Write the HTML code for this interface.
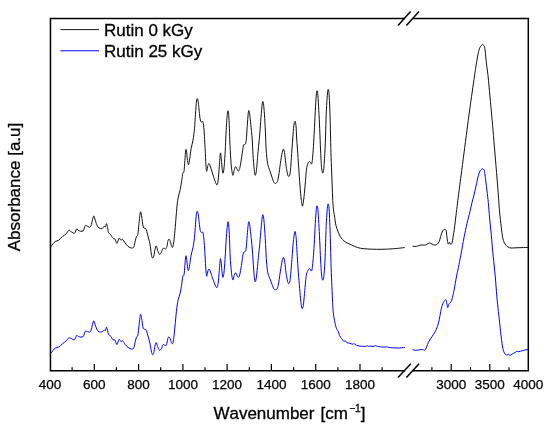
<!DOCTYPE html>
<html><head><meta charset="utf-8"><title>Rutin spectra</title>
<style>
html,body{margin:0;padding:0;background:#fff;}
body{width:550px;height:432px;overflow:hidden;}
svg{display:block;}
text{font-family:"Liberation Sans",Arial,sans-serif;fill:#000;font-kerning:none;}
</style></head>
<body>
<svg width="550" height="432" viewBox="0 0 550 432">
<rect width="550" height="432" fill="#fff"/>
<g fill="none" stroke="#000" stroke-width="1.5" stroke-linecap="square">
<path d="M50.45,18.5 V370.7 H404 M50.45,18.5 H404 M413.2,18.5 H528.3 V370.7 H413.2"/>
</g>
<g fill="none" stroke="#000" stroke-width="1.5">
<line x1="398" y1="25.4" x2="410.6" y2="11.6"/>
<line x1="406.4" y1="25.4" x2="419" y2="11.6"/>
<line x1="398" y1="377.4" x2="410.8" y2="363.7"/>
<line x1="406.4" y1="377.4" x2="419.1" y2="363.7"/>
</g>
<g stroke="#000" stroke-width="1.2"><line x1="72.1" y1="370.7" x2="72.1" y2="367.2"/><line x1="94.3" y1="370.7" x2="94.3" y2="364.0"/><line x1="116.4" y1="370.7" x2="116.4" y2="367.2"/><line x1="138.6" y1="370.7" x2="138.6" y2="364.0"/><line x1="160.7" y1="370.7" x2="160.7" y2="367.2"/><line x1="182.9" y1="370.7" x2="182.9" y2="364.0"/><line x1="205.0" y1="370.7" x2="205.0" y2="367.2"/><line x1="227.1" y1="370.7" x2="227.1" y2="364.0"/><line x1="249.3" y1="370.7" x2="249.3" y2="367.2"/><line x1="271.4" y1="370.7" x2="271.4" y2="364.0"/><line x1="293.6" y1="370.7" x2="293.6" y2="367.2"/><line x1="315.7" y1="370.7" x2="315.7" y2="364.0"/><line x1="337.9" y1="370.7" x2="337.9" y2="367.2"/><line x1="360.0" y1="370.7" x2="360.0" y2="364.0"/><line x1="382.1" y1="370.7" x2="382.1" y2="367.2"/><line x1="431.9" y1="370.7" x2="431.9" y2="367.2"/><line x1="451.2" y1="370.7" x2="451.2" y2="364.0"/><line x1="470.5" y1="370.7" x2="470.5" y2="367.2"/><line x1="489.8" y1="370.7" x2="489.8" y2="364.0"/><line x1="509.0" y1="370.7" x2="509.0" y2="367.2"/></g>
<g font-size="13.5px" stroke="#000" stroke-width="0.25"><text x="50.0" y="388.5" text-anchor="middle">400</text><text x="94.3" y="388.5" text-anchor="middle">600</text><text x="138.6" y="388.5" text-anchor="middle">800</text><text x="182.9" y="388.5" text-anchor="middle">1000</text><text x="227.1" y="388.5" text-anchor="middle">1200</text><text x="271.4" y="388.5" text-anchor="middle">1400</text><text x="315.7" y="388.5" text-anchor="middle">1600</text><text x="360.0" y="388.5" text-anchor="middle">1800</text><text x="451.2" y="388.5" text-anchor="middle">3000</text><text x="489.8" y="388.5" text-anchor="middle">3500</text><text x="528.3" y="388.5" text-anchor="middle">4000</text></g>
<g fill="none" stroke-linejoin="round" stroke-linecap="round">
<path stroke="#111" stroke-width="1" d="M50.60,246.90C51.00,246.39 52.35,244.56 53.10,243.70C53.85,242.84 54.37,242.08 55.30,241.50C56.23,240.92 57.73,240.92 58.90,240.10C60.07,239.28 61.43,237.41 62.60,236.40C63.77,235.39 65.21,234.78 66.20,233.80C67.19,232.82 67.98,230.62 68.80,230.30C69.62,229.98 70.39,231.34 71.30,231.80C72.21,232.26 73.64,233.66 74.50,233.20C75.36,232.74 76.04,229.32 76.70,228.90C77.36,228.48 77.59,230.26 78.60,230.60C79.61,230.94 81.94,231.78 83.00,231.00C84.06,230.22 84.50,226.47 85.20,225.70C85.90,224.93 86.54,226.04 87.40,226.20C88.26,226.36 89.62,228.28 90.60,226.70C91.58,225.12 92.81,217.53 93.50,216.30C94.19,215.07 94.37,217.64 94.90,219.00C95.43,220.36 96.14,223.36 96.80,224.80C97.46,226.24 98.14,227.39 99.00,228.00C99.86,228.61 101.38,228.89 102.20,228.60C103.02,228.31 103.60,226.44 104.10,226.20C104.60,225.96 104.88,227.48 105.30,227.10C105.72,226.72 106.19,222.95 106.70,223.80C107.21,224.65 107.91,230.72 108.50,232.40C109.09,234.08 109.70,233.37 110.40,234.30C111.10,235.23 112.16,237.43 112.90,238.20C113.64,238.97 114.36,238.27 115.00,239.10C115.64,239.93 116.24,243.54 116.90,243.40C117.56,243.26 118.46,238.73 119.10,238.20C119.74,237.67 120.34,239.91 120.90,240.10C121.46,240.29 121.91,238.94 122.60,239.40C123.29,239.86 124.34,241.88 125.20,243.00C126.06,244.12 126.96,245.58 128.00,246.40C129.04,247.22 130.77,248.02 131.70,248.10C132.63,248.18 133.22,248.07 133.80,246.90C134.38,245.73 134.87,242.48 135.30,240.80C135.73,239.12 136.08,237.44 136.50,236.40C136.92,235.36 137.50,236.40 137.90,234.30C138.30,232.20 138.60,226.87 139.00,223.30C139.40,219.73 139.98,213.17 140.40,212.00C140.82,210.83 141.14,213.60 141.60,216.00C142.06,218.40 142.61,224.94 143.30,227.00C143.99,229.06 145.20,227.62 145.90,228.90C146.60,230.18 147.06,232.63 147.70,235.00C148.34,237.37 149.32,240.68 149.90,243.70C150.48,246.72 150.88,251.61 151.30,253.90C151.72,256.19 152.10,257.65 152.50,258.00C152.90,258.35 153.40,257.44 153.80,256.10C154.20,254.76 154.62,251.23 155.00,249.60C155.38,247.97 155.78,245.79 156.20,245.90C156.62,246.01 157.09,248.94 157.60,250.30C158.11,251.66 158.81,254.05 159.40,254.40C159.99,254.75 160.77,253.40 161.30,252.50C161.83,251.60 162.27,249.50 162.70,248.80C163.13,248.10 163.54,248.05 164.00,248.10C164.46,248.15 165.14,249.34 165.60,249.10C166.06,248.86 166.55,247.82 166.90,246.60C167.25,245.38 167.50,242.70 167.80,241.50C168.10,240.30 168.45,239.26 168.80,239.10C169.15,238.94 169.60,239.52 170.00,240.50C170.40,241.48 170.90,244.10 171.30,245.20C171.70,246.30 172.13,247.75 172.50,247.40C172.87,247.05 173.25,245.22 173.60,243.00C173.95,240.78 174.35,237.12 174.70,233.50C175.05,229.88 175.42,224.96 175.80,220.40C176.18,215.84 176.70,208.74 177.10,205.00C177.50,201.26 177.80,199.46 178.30,197.00C178.80,194.54 179.66,192.19 180.20,189.60C180.74,187.01 181.28,183.42 181.70,180.80C182.12,178.18 182.43,174.72 182.80,173.20C183.17,171.68 183.66,173.35 184.00,171.30C184.34,169.25 184.63,163.78 184.90,160.40C185.17,157.02 185.44,151.72 185.70,150.20C185.96,148.68 186.21,149.27 186.50,150.90C186.79,152.53 187.18,158.18 187.50,160.40C187.82,162.62 188.15,165.04 188.50,164.80C188.85,164.56 189.28,161.48 189.70,158.90C190.12,156.32 190.57,151.69 191.10,148.70C191.63,145.71 192.46,143.40 193.00,140.20C193.54,137.00 194.10,132.86 194.50,128.70C194.90,124.54 195.18,118.63 195.50,114.20C195.82,109.77 196.20,103.46 196.50,101.00C196.80,98.54 197.11,98.56 197.40,98.80C197.69,99.04 198.01,100.52 198.30,102.50C198.59,104.48 198.88,108.40 199.20,111.20C199.52,114.00 199.92,118.24 200.30,120.00C200.68,121.76 201.20,121.98 201.60,122.20C202.00,122.42 202.45,120.58 202.80,121.40C203.15,122.22 203.51,124.40 203.80,127.30C204.09,130.20 204.38,135.87 204.60,139.50C204.82,143.13 204.99,145.95 205.20,150.00C205.41,154.05 205.66,161.39 205.90,164.80C206.14,168.21 206.38,171.19 206.70,171.30C207.02,171.41 207.52,166.73 207.90,165.50C208.28,164.27 208.68,163.36 209.10,163.60C209.52,163.84 209.88,165.18 210.50,167.00C211.12,168.82 212.25,172.68 213.00,175.00C213.75,177.32 214.58,179.92 215.20,181.50C215.82,183.08 216.44,185.01 216.90,184.90C217.36,184.79 217.72,183.79 218.10,180.80C218.48,177.81 218.93,170.63 219.30,166.20C219.67,161.77 220.08,154.25 220.40,153.10C220.72,151.95 221.01,156.42 221.30,159.00C221.59,161.58 221.94,166.93 222.20,169.20C222.46,171.47 222.63,173.20 222.90,173.20C223.17,173.20 223.56,172.18 223.90,169.20C224.24,166.22 224.70,159.59 225.00,154.60C225.30,149.61 225.50,143.78 225.80,138.00C226.10,132.22 226.56,122.84 226.90,118.50C227.24,114.16 227.61,111.59 227.90,110.90C228.19,110.21 228.46,111.35 228.70,114.20C228.94,117.05 229.21,124.09 229.40,128.70C229.59,133.31 229.74,139.11 229.90,143.00C230.06,146.89 230.19,149.51 230.40,153.00C230.61,156.49 230.91,161.63 231.20,164.80C231.49,167.97 231.91,171.12 232.20,172.80C232.49,174.48 232.70,175.65 233.00,175.30C233.30,174.95 233.68,171.98 234.10,170.60C234.52,169.22 235.12,166.92 235.60,166.70C236.08,166.48 236.68,168.51 237.10,169.20C237.52,169.89 237.78,171.13 238.20,171.00C238.62,170.87 239.19,170.32 239.70,168.40C240.21,166.48 240.89,162.15 241.40,159.00C241.91,155.85 242.55,150.97 242.90,148.70C243.25,146.43 243.25,145.49 243.60,144.80C243.95,144.11 244.68,145.10 245.10,144.40C245.52,143.70 245.86,143.26 246.20,140.40C246.54,137.54 246.88,130.80 247.20,126.50C247.52,122.20 247.93,116.06 248.20,113.50C248.47,110.94 248.66,110.39 248.90,110.50C249.14,110.61 249.40,111.98 249.70,114.20C250.00,116.42 250.40,120.43 250.80,124.40C251.20,128.37 251.85,134.17 252.20,139.00C252.55,143.83 252.68,149.77 253.00,154.60C253.32,159.43 253.85,165.89 254.20,169.20C254.55,172.51 254.85,175.08 255.20,175.30C255.55,175.52 255.98,173.91 256.40,170.60C256.82,167.29 257.42,158.86 257.80,154.60C258.18,150.34 258.51,146.98 258.80,144.00C259.09,141.02 259.30,139.62 259.60,136.00C259.90,132.38 260.33,126.06 260.70,121.40C261.07,116.74 261.56,110.08 261.90,106.90C262.24,103.72 262.51,101.74 262.80,101.50C263.09,101.26 263.40,102.68 263.70,105.40C264.00,108.12 264.41,113.92 264.70,118.50C264.99,123.08 265.26,128.96 265.50,134.00C265.74,139.04 265.86,145.31 266.20,150.00C266.54,154.69 267.02,160.00 267.60,163.30C268.18,166.60 269.10,168.38 269.80,170.60C270.50,172.82 271.34,175.33 272.00,177.20C272.66,179.07 273.32,181.31 273.90,182.30C274.48,183.29 275.04,183.53 275.60,183.40C276.16,183.27 276.89,182.84 277.40,181.50C277.91,180.16 278.32,177.91 278.80,175.00C279.28,172.09 279.86,166.92 280.40,163.30C280.94,159.68 281.69,154.66 282.20,152.40C282.71,150.14 283.18,148.85 283.60,149.20C284.02,149.55 284.40,151.88 284.80,154.60C285.20,157.32 285.65,163.05 286.10,166.20C286.55,169.35 287.18,172.67 287.60,174.30C288.02,175.93 288.33,176.40 288.70,176.40C289.07,176.40 289.55,176.16 289.90,174.30C290.25,172.44 290.58,168.69 290.90,164.80C291.22,160.91 291.60,154.29 291.90,150.00C292.20,145.71 292.50,141.87 292.80,138.00C293.10,134.13 293.45,128.49 293.80,125.80C294.15,123.11 294.65,121.20 295.00,121.20C295.35,121.20 295.74,123.27 296.00,125.80C296.26,128.33 296.36,133.13 296.60,137.00C296.84,140.87 297.18,145.33 297.50,150.00C297.82,154.67 298.20,160.44 298.60,166.20C299.00,171.96 299.58,180.75 300.00,186.00C300.42,191.25 300.82,195.77 301.20,199.00C301.58,202.23 302.03,205.88 302.40,206.20C302.77,206.52 303.15,203.43 303.50,201.00C303.85,198.57 304.28,194.23 304.60,191.00C304.92,187.77 305.20,184.29 305.50,180.80C305.80,177.31 306.15,171.87 306.50,169.20C306.85,166.53 307.28,165.32 307.70,164.10C308.12,162.88 308.68,161.90 309.10,161.60C309.52,161.30 309.92,161.80 310.30,162.20C310.68,162.60 311.18,164.39 311.50,164.10C311.82,163.81 312.03,162.66 312.30,160.40C312.57,158.14 312.90,154.37 313.20,150.00C313.50,145.63 313.86,139.31 314.20,133.10C314.54,126.89 314.98,117.14 315.30,111.20C315.62,105.26 315.93,99.26 316.20,96.00C316.47,92.74 316.73,90.88 317.00,90.80C317.27,90.72 317.61,92.35 317.90,95.50C318.19,98.65 318.51,105.19 318.80,110.50C319.09,115.81 319.41,122.22 319.70,128.70C319.99,135.18 320.30,144.76 320.60,151.00C320.90,157.24 321.26,164.18 321.60,167.70C321.94,171.22 322.35,172.87 322.70,173.00C323.05,173.13 323.45,171.86 323.80,168.50C324.15,165.14 324.61,157.36 324.90,152.00C325.19,146.64 325.39,141.05 325.60,135.00C325.81,128.95 325.96,120.10 326.20,114.20C326.44,108.30 326.81,102.02 327.10,98.10C327.39,94.18 327.71,90.63 328.00,89.70C328.29,88.77 328.64,90.01 328.90,92.30C329.16,94.59 329.39,99.34 329.60,104.00C329.81,108.66 330.04,115.96 330.20,121.40C330.36,126.84 330.46,132.22 330.60,138.00C330.74,143.78 330.89,151.10 331.10,157.50C331.31,163.90 331.66,171.68 331.90,178.00C332.14,184.32 332.36,192.01 332.60,197.00C332.84,201.99 333.10,206.16 333.40,209.20C333.70,212.24 334.10,213.44 334.50,216.00C334.90,218.56 335.37,222.80 335.90,225.20C336.43,227.60 337.16,229.27 337.80,231.00C338.44,232.73 339.15,234.64 339.90,236.00C340.65,237.36 341.62,238.54 342.50,239.50C343.38,240.46 344.36,241.31 345.40,242.00C346.44,242.69 347.50,243.08 349.00,243.80C350.50,244.52 352.94,245.78 354.80,246.50C356.66,247.22 358.50,247.90 360.60,248.30C362.70,248.70 365.34,248.84 367.90,249.00C370.46,249.16 373.80,249.27 376.60,249.30C379.40,249.33 382.60,249.30 385.40,249.20C388.20,249.10 391.76,248.88 394.10,248.70C396.44,248.52 398.37,248.28 400.00,248.10C401.63,247.92 403.61,247.68 404.30,247.60"/>
<path stroke="#111" stroke-width="1" d="M413.00,246.30C413.59,246.32 415.53,246.59 416.70,246.40C417.87,246.21 419.02,245.31 420.30,245.10C421.58,244.89 423.64,245.21 424.70,245.10C425.76,244.99 426.13,244.75 426.90,244.40C427.67,244.05 428.68,242.95 429.50,242.90C430.32,242.85 431.14,243.75 432.00,244.10C432.86,244.45 434.04,245.10 434.90,245.10C435.76,245.10 436.70,244.69 437.40,244.10C438.10,243.51 438.77,242.65 439.30,241.40C439.83,240.15 440.24,237.80 440.70,236.30C441.16,234.80 441.74,233.04 442.20,232.00C442.66,230.96 443.14,230.20 443.60,229.80C444.06,229.40 444.67,229.28 445.10,229.50C445.53,229.72 445.95,229.52 446.30,231.20C446.65,232.88 446.98,237.94 447.30,240.00C447.62,242.06 447.95,243.75 448.30,244.10C448.65,244.45 449.13,242.20 449.50,242.20C449.87,242.20 450.22,243.94 450.60,244.10C450.98,244.26 451.50,244.32 451.90,243.20C452.30,242.08 452.67,239.71 453.10,237.10C453.53,234.49 454.14,230.40 454.60,226.90C455.06,223.40 455.55,218.86 456.00,215.20C456.45,211.54 457.02,207.07 457.40,204.00C457.78,200.93 457.82,200.48 458.40,196.00C458.98,191.52 460.10,182.88 461.00,176.00C461.90,169.12 463.04,160.36 464.00,153.00C464.96,145.64 466.12,136.72 467.00,130.00C467.88,123.28 468.67,117.08 469.50,111.00C470.33,104.92 471.40,97.60 472.20,92.00C473.00,86.40 473.89,80.16 474.50,76.00C475.11,71.84 475.52,69.04 476.00,66.00C476.48,62.96 477.02,59.56 477.50,57.00C477.98,54.44 478.52,51.68 479.00,50.00C479.48,48.32 480.05,47.30 480.50,46.50C480.95,45.70 481.43,45.29 481.80,45.00C482.17,44.71 482.45,44.60 482.80,44.70C483.15,44.80 483.71,45.20 484.00,45.60C484.29,46.00 484.42,46.50 484.60,47.20C484.78,47.90 484.94,48.75 485.10,50.00C485.26,51.25 485.38,52.76 485.60,55.00C485.82,57.24 486.12,60.72 486.50,64.00C486.88,67.28 487.44,70.22 488.00,75.50C488.56,80.78 489.44,91.00 490.00,97.00C490.56,103.00 491.02,107.72 491.50,113.00C491.98,118.28 492.44,123.44 493.00,130.00C493.56,136.56 494.36,146.32 495.00,154.00C495.64,161.68 496.46,171.28 497.00,178.00C497.54,184.72 498.08,191.68 498.40,196.00C498.72,200.32 498.74,201.80 499.00,205.00C499.26,208.20 499.58,212.00 500.00,216.00C500.42,220.00 501.12,226.32 501.60,230.00C502.08,233.68 502.46,236.76 503.00,239.00C503.54,241.24 504.20,242.72 505.00,244.00C505.80,245.28 507.04,246.36 508.00,247.00C508.96,247.64 509.72,247.87 511.00,248.00C512.28,248.13 514.24,247.86 516.00,247.80C517.76,247.74 520.08,247.66 522.00,247.60C523.92,247.54 527.04,247.43 528.00,247.40"/>
<path stroke="#0000ff" stroke-width="1" d="M50.60,353.60C51.00,353.07 52.35,351.18 53.10,350.30C53.85,349.42 54.37,348.64 55.30,348.10C56.23,347.56 57.73,347.60 58.90,346.90C60.07,346.20 61.43,344.68 62.60,343.70C63.77,342.72 65.21,341.73 66.20,340.80C67.19,339.87 67.98,338.25 68.80,337.90C69.62,337.55 70.39,338.31 71.30,338.60C72.21,338.89 73.64,340.21 74.50,339.70C75.36,339.19 76.04,335.88 76.70,335.40C77.36,334.92 77.59,336.49 78.60,336.70C79.61,336.91 81.94,337.56 83.00,336.70C84.06,335.84 84.50,332.12 85.20,331.30C85.90,330.48 86.54,331.60 87.40,331.60C88.26,331.60 89.62,332.98 90.60,331.30C91.58,329.62 92.81,322.25 93.50,321.10C94.19,319.95 94.37,322.80 94.90,324.10C95.43,325.40 96.14,327.97 96.80,329.20C97.46,330.43 98.14,331.38 99.00,331.80C99.86,332.22 101.38,332.10 102.20,331.80C103.02,331.50 103.60,330.09 104.10,329.90C104.60,329.71 104.88,331.02 105.30,330.60C105.72,330.18 106.19,326.71 106.70,327.30C107.21,327.89 107.91,332.96 108.50,334.30C109.09,335.64 109.70,334.84 110.40,335.70C111.10,336.56 112.16,339.00 112.90,339.70C113.64,340.40 114.36,339.33 115.00,340.10C115.64,340.87 116.24,344.61 116.90,344.50C117.56,344.39 118.46,339.88 119.10,339.40C119.74,338.92 120.34,341.28 120.90,341.50C121.46,341.72 121.91,340.32 122.60,340.80C123.29,341.28 124.34,343.44 125.20,344.50C126.06,345.56 126.96,346.66 128.00,347.40C129.04,348.14 130.77,349.04 131.70,349.10C132.63,349.16 133.22,349.02 133.80,347.80C134.38,346.58 134.87,343.20 135.30,341.50C135.73,339.80 136.08,338.24 136.50,337.20C136.92,336.16 137.50,336.87 137.90,335.00C138.30,333.13 138.60,328.76 139.00,325.50C139.40,322.24 139.98,315.77 140.40,314.60C140.82,313.43 141.14,315.99 141.60,318.20C142.06,320.41 142.61,326.58 143.30,328.40C143.99,330.22 145.20,328.54 145.90,329.60C146.60,330.66 147.06,332.86 147.70,335.00C148.34,337.14 149.32,340.44 149.90,343.00C150.48,345.56 150.88,349.13 151.30,351.00C151.72,352.87 152.10,354.41 152.50,354.70C152.90,354.99 153.40,354.21 153.80,352.80C154.20,351.39 154.62,347.53 155.00,345.90C155.38,344.27 155.78,342.52 156.20,342.60C156.62,342.68 157.09,345.17 157.60,346.40C158.11,347.63 158.81,349.92 159.40,350.30C159.99,350.68 160.77,349.62 161.30,348.80C161.83,347.98 162.27,345.89 162.70,345.20C163.13,344.51 163.54,344.39 164.00,344.50C164.46,344.61 165.14,346.14 165.60,345.90C166.06,345.66 166.55,344.17 166.90,343.00C167.25,341.83 167.50,339.58 167.80,338.60C168.10,337.62 168.45,336.96 168.80,336.90C169.15,336.84 169.60,337.34 170.00,338.20C170.40,339.06 170.90,341.42 171.30,342.30C171.70,343.18 172.13,344.16 172.50,343.70C172.87,343.24 173.25,341.72 173.60,339.40C173.95,337.08 174.35,332.70 174.70,329.20C175.05,325.70 175.43,321.13 175.80,317.50C176.17,313.87 176.60,309.43 177.00,306.50C177.40,303.57 177.79,301.34 178.30,299.20C178.81,297.06 179.66,295.47 180.20,293.10C180.74,290.73 181.28,287.09 181.70,284.40C182.12,281.71 182.43,277.82 182.80,276.30C183.17,274.78 183.66,276.64 184.00,274.90C184.34,273.16 184.63,268.36 184.90,265.40C185.17,262.44 185.44,257.68 185.70,256.40C185.96,255.12 186.21,255.72 186.50,257.40C186.79,259.08 187.18,264.80 187.50,266.90C187.82,269.00 188.15,270.85 188.50,270.50C188.85,270.15 189.28,267.15 189.70,264.70C190.12,262.25 190.57,257.95 191.10,255.20C191.63,252.45 192.46,250.36 193.00,247.50C193.54,244.64 194.10,241.03 194.50,237.30C194.90,233.57 195.18,228.06 195.50,224.20C195.82,220.34 196.20,215.26 196.50,213.20C196.80,211.14 197.11,211.06 197.40,211.30C197.69,211.54 198.01,212.88 198.30,214.70C198.59,216.52 198.88,220.14 199.20,222.70C199.52,225.26 199.92,229.12 200.30,230.70C200.68,232.28 201.20,232.36 201.60,232.60C202.00,232.84 202.45,231.34 202.80,232.20C203.15,233.06 203.51,235.47 203.80,238.00C204.09,240.53 204.39,244.96 204.60,248.00C204.81,251.04 204.89,253.51 205.10,257.00C205.31,260.49 205.64,266.71 205.90,269.80C206.16,272.89 206.38,276.12 206.70,276.30C207.02,276.48 207.52,272.05 207.90,270.90C208.28,269.75 208.68,268.92 209.10,269.10C209.52,269.28 209.88,270.37 210.50,272.00C211.12,273.63 212.25,277.20 213.00,279.30C213.75,281.40 214.58,283.76 215.20,285.10C215.82,286.44 216.44,287.94 216.90,287.70C217.36,287.46 217.72,286.35 218.10,283.60C218.48,280.85 218.93,274.47 219.30,270.50C219.67,266.53 220.08,259.86 220.40,258.80C220.72,257.74 221.01,261.56 221.30,263.90C221.59,266.24 221.94,271.24 222.20,273.40C222.46,275.56 222.63,277.40 222.90,277.40C223.17,277.40 223.56,276.25 223.90,273.40C224.24,270.55 224.70,263.98 225.00,259.60C225.30,255.22 225.50,250.74 225.80,246.00C226.10,241.26 226.56,233.84 226.90,230.00C227.24,226.16 227.61,222.82 227.90,222.00C228.19,221.18 228.44,222.23 228.70,224.90C228.96,227.57 229.26,233.56 229.50,238.70C229.74,243.84 229.93,252.02 230.20,257.00C230.47,261.98 230.88,266.47 231.20,269.80C231.52,273.13 231.91,276.17 232.20,277.80C232.49,279.43 232.70,280.35 233.00,280.00C233.30,279.65 233.68,276.77 234.10,275.60C234.52,274.43 235.12,272.70 235.60,272.70C236.08,272.70 236.68,274.85 237.10,275.60C237.52,276.35 237.78,277.51 238.20,277.40C238.62,277.29 239.19,276.82 239.70,274.90C240.21,272.98 240.92,268.34 241.40,265.40C241.88,262.46 242.35,258.60 242.70,256.50C243.05,254.40 243.22,253.07 243.60,252.30C243.98,251.53 244.68,252.36 245.10,251.70C245.52,251.04 245.86,250.79 246.20,248.20C246.54,245.61 246.88,239.29 247.20,235.50C247.52,231.71 247.93,226.72 248.20,224.50C248.47,222.28 248.66,221.54 248.90,221.60C249.14,221.66 249.40,222.85 249.70,224.90C250.00,226.95 250.40,230.70 250.80,234.40C251.20,238.10 251.83,243.74 252.20,248.00C252.57,252.26 252.78,256.49 253.10,261.00C253.42,265.51 253.86,272.87 254.20,276.20C254.54,279.53 254.85,281.67 255.20,281.80C255.55,281.93 255.98,279.99 256.40,277.00C256.82,274.01 257.42,266.94 257.80,263.10C258.18,259.26 258.51,255.74 258.80,253.00C259.09,250.26 259.30,249.22 259.60,246.00C259.90,242.78 260.33,237.09 260.70,232.90C261.07,228.71 261.56,222.71 261.90,219.80C262.24,216.89 262.51,214.94 262.80,214.70C263.09,214.46 263.40,215.85 263.70,218.30C264.00,220.75 264.40,225.79 264.70,230.00C265.00,234.21 265.34,240.04 265.60,244.60C265.86,249.16 265.98,254.13 266.30,258.50C266.62,262.87 267.04,268.72 267.60,271.90C268.16,275.08 269.10,276.42 269.80,278.40C270.50,280.38 271.34,282.59 272.00,284.30C272.66,286.01 273.32,288.24 273.90,289.10C274.48,289.96 275.04,289.84 275.60,289.70C276.16,289.56 276.89,289.42 277.40,288.20C277.91,286.98 278.32,284.84 278.80,282.10C279.28,279.36 279.86,274.49 280.40,271.10C280.94,267.71 281.69,263.09 282.20,260.90C282.71,258.71 283.18,257.16 283.60,257.40C284.02,257.64 284.40,259.86 284.80,262.40C285.20,264.94 285.65,270.28 286.10,273.30C286.55,276.32 287.18,279.67 287.60,281.30C288.02,282.93 288.33,283.50 288.70,283.50C289.07,283.50 289.55,283.16 289.90,281.30C290.25,279.44 290.58,275.39 290.90,271.90C291.22,268.41 291.60,263.32 291.90,259.50C292.20,255.68 292.50,251.55 292.80,248.00C293.10,244.45 293.45,239.96 293.80,237.30C294.15,234.64 294.65,231.53 295.00,231.40C295.35,231.27 295.73,234.08 296.00,236.50C296.27,238.92 296.46,242.74 296.70,246.50C296.94,250.26 297.20,255.25 297.50,260.00C297.80,264.75 298.20,271.03 298.60,276.20C299.00,281.37 299.60,287.87 300.00,292.30C300.40,296.73 300.76,301.28 301.10,303.90C301.44,306.52 301.75,308.46 302.10,308.70C302.45,308.94 302.92,307.80 303.30,305.40C303.68,303.00 304.15,297.43 304.50,293.70C304.85,289.97 305.18,285.24 305.50,282.10C305.82,278.96 306.15,275.86 306.50,274.10C306.85,272.34 307.28,271.96 307.70,271.10C308.12,270.24 308.68,269.00 309.10,268.70C309.52,268.40 309.92,268.82 310.30,269.20C310.68,269.58 311.18,271.37 311.50,271.10C311.82,270.83 312.03,269.52 312.30,267.50C312.57,265.48 312.90,262.16 313.20,258.50C313.50,254.84 313.86,250.20 314.20,244.60C314.54,239.00 314.98,228.96 315.30,223.50C315.62,218.04 315.93,213.33 316.20,210.50C316.47,207.67 316.73,205.94 317.00,205.80C317.27,205.66 317.61,206.77 317.90,209.60C318.19,212.43 318.51,218.60 318.80,223.50C319.09,228.40 319.41,234.36 319.70,240.20C319.99,246.04 320.30,254.43 320.60,260.00C320.90,265.57 321.26,271.77 321.60,275.00C321.94,278.23 322.35,279.96 322.70,280.20C323.05,280.44 323.45,279.41 323.80,276.50C324.15,273.59 324.61,267.34 324.90,262.00C325.19,256.66 325.39,248.92 325.60,243.10C325.81,237.28 325.96,230.74 326.20,225.60C326.44,220.46 326.81,214.46 327.10,211.00C327.39,207.54 327.71,204.69 328.00,204.00C328.29,203.31 328.64,204.41 328.90,206.70C329.16,208.99 329.39,213.87 329.60,218.30C329.81,222.73 330.04,229.65 330.20,234.40C330.36,239.15 330.46,242.70 330.60,248.00C330.74,253.30 330.89,261.36 331.10,267.50C331.31,273.64 331.66,280.80 331.90,286.40C332.14,292.00 332.39,298.40 332.60,302.50C332.81,306.60 332.90,309.14 333.20,312.00C333.50,314.86 333.99,317.78 334.50,320.40C335.01,323.02 335.78,326.58 336.40,328.40C337.02,330.22 337.89,330.63 338.40,331.80C338.91,332.97 339.06,334.61 339.60,335.70C340.14,336.79 341.14,337.70 341.80,338.60C342.46,339.50 343.12,340.95 343.70,341.30C344.28,341.65 344.89,340.59 345.40,340.80C345.91,341.01 346.20,342.20 346.90,342.60C347.60,343.00 348.87,343.04 349.80,343.30C350.73,343.56 352.00,344.14 352.70,344.20C353.40,344.26 353.62,343.54 354.20,343.70C354.78,343.86 355.37,344.82 356.30,345.20C357.23,345.58 358.59,345.91 360.00,346.10C361.41,346.29 363.93,346.45 365.10,346.40C366.27,346.35 366.72,345.80 367.30,345.80C367.88,345.80 368.12,346.35 368.70,346.40C369.28,346.45 370.20,346.08 370.90,346.10C371.60,346.12 372.40,346.58 373.10,346.50C373.80,346.42 374.60,345.62 375.30,345.60C376.00,345.58 376.22,346.16 377.50,346.40C378.78,346.64 381.91,347.02 383.30,347.10C384.69,347.18 384.79,346.79 386.20,346.90C387.61,347.01 390.23,347.62 392.10,347.80C393.97,347.98 395.93,348.05 397.90,348.00C399.87,347.95 403.36,347.58 404.40,347.50"/>
<path stroke="#0000ff" stroke-width="1" d="M413.00,349.80C413.46,349.88 414.84,350.30 415.90,350.30C416.96,350.30 418.54,349.93 419.60,349.80C420.66,349.67 421.64,349.45 422.50,349.50C423.36,349.55 424.34,350.52 425.00,350.10C425.66,349.68 426.07,348.12 426.60,346.90C427.13,345.68 427.68,343.80 428.30,342.50C428.92,341.20 429.68,340.08 430.50,338.80C431.32,337.52 432.47,336.00 433.40,334.50C434.33,333.00 435.48,331.27 436.30,329.40C437.12,327.53 437.91,325.02 438.50,322.80C439.09,320.58 439.54,317.84 440.00,315.50C440.46,313.16 440.89,310.23 441.40,308.20C441.91,306.17 442.67,304.03 443.20,302.80C443.73,301.57 444.24,300.96 444.70,300.50C445.16,300.04 445.76,299.48 446.10,299.90C446.44,300.32 446.54,301.88 446.80,303.10C447.06,304.32 447.40,307.26 447.70,307.50C448.00,307.74 448.35,305.35 448.70,304.60C449.05,303.85 449.47,303.31 449.90,302.80C450.33,302.29 450.94,302.52 451.40,301.40C451.86,300.28 452.34,297.78 452.80,295.80C453.26,293.82 453.72,292.01 454.30,289.00C454.88,285.99 455.74,280.44 456.40,277.00C457.06,273.56 457.66,271.13 458.40,267.50C459.14,263.87 460.10,259.10 461.00,254.30C461.90,249.50 463.04,242.43 464.00,237.50C464.96,232.57 466.04,227.66 467.00,223.50C467.96,219.34 469.20,214.86 470.00,211.50C470.80,208.14 471.36,205.14 472.00,202.50C472.64,199.86 473.36,197.64 474.00,195.00C474.64,192.36 475.36,188.88 476.00,186.00C476.64,183.12 477.44,179.24 478.00,177.00C478.56,174.76 479.02,173.17 479.50,172.00C479.98,170.83 480.57,170.20 481.00,169.70C481.43,169.20 481.90,169.04 482.20,168.90C482.50,168.76 482.66,168.72 482.90,168.80C483.14,168.88 483.44,169.02 483.70,169.40C483.96,169.78 484.29,170.30 484.50,171.20C484.71,172.10 484.76,173.11 485.00,175.00C485.24,176.89 485.68,180.44 486.00,183.00C486.32,185.56 486.63,187.88 487.00,191.00C487.37,194.12 487.88,198.18 488.30,202.50C488.72,206.82 489.17,213.28 489.60,218.00C490.03,222.72 490.55,227.20 491.00,232.00C491.45,236.80 491.92,242.88 492.40,248.00C492.88,253.12 493.52,259.20 494.00,264.00C494.48,268.80 494.95,272.88 495.40,278.00C495.85,283.12 496.32,290.61 496.80,296.00C497.28,301.39 497.90,307.09 498.40,311.70C498.90,316.31 499.44,320.61 499.90,324.80C500.36,328.99 500.84,334.17 501.30,337.90C501.76,341.63 502.32,345.72 502.80,348.10C503.28,350.48 503.84,351.74 504.30,352.80C504.76,353.86 505.24,354.35 505.70,354.70C506.16,355.05 506.78,355.08 507.20,355.00C507.62,354.92 507.84,354.14 508.30,354.20C508.76,354.26 509.46,355.45 510.10,355.40C510.74,355.35 511.48,354.36 512.30,353.90C513.12,353.44 514.46,352.92 515.20,352.50C515.94,352.08 516.32,351.44 516.90,351.30C517.48,351.16 517.90,351.70 518.80,351.60C519.70,351.50 521.03,351.07 522.50,350.70C523.97,350.33 527.12,349.52 528.00,349.30"/>
<line x1="60.4" y1="29.6" x2="99" y2="29.6" stroke="#1a1a1a" stroke-width="1" stroke-linecap="butt"/>
<line x1="60.4" y1="50.8" x2="99" y2="50.8" stroke="#0000ff" stroke-width="1" stroke-linecap="butt"/>
</g>
<g font-size="17px" stroke="#000" stroke-width="0.3">
<text x="104" y="35.6">Rutin 0 kGy</text>
<text x="104" y="56.7">Rutin 25 kGy</text>
<text y="419.3"><tspan x="213.4">Wavenumber</tspan> <tspan x="320.5">[cm</tspan><tspan x="349.2" y="412.2" font-size="10.3px">−</tspan><tspan x="355.1" y="412.2" font-size="10.3px">1</tspan><tspan x="360.8" y="419.3">]</tspan></text>
<text transform="translate(20.2,187) rotate(-90)" text-anchor="middle">Absorbance [a.u]</text>
</g>
</svg>
</body></html>
